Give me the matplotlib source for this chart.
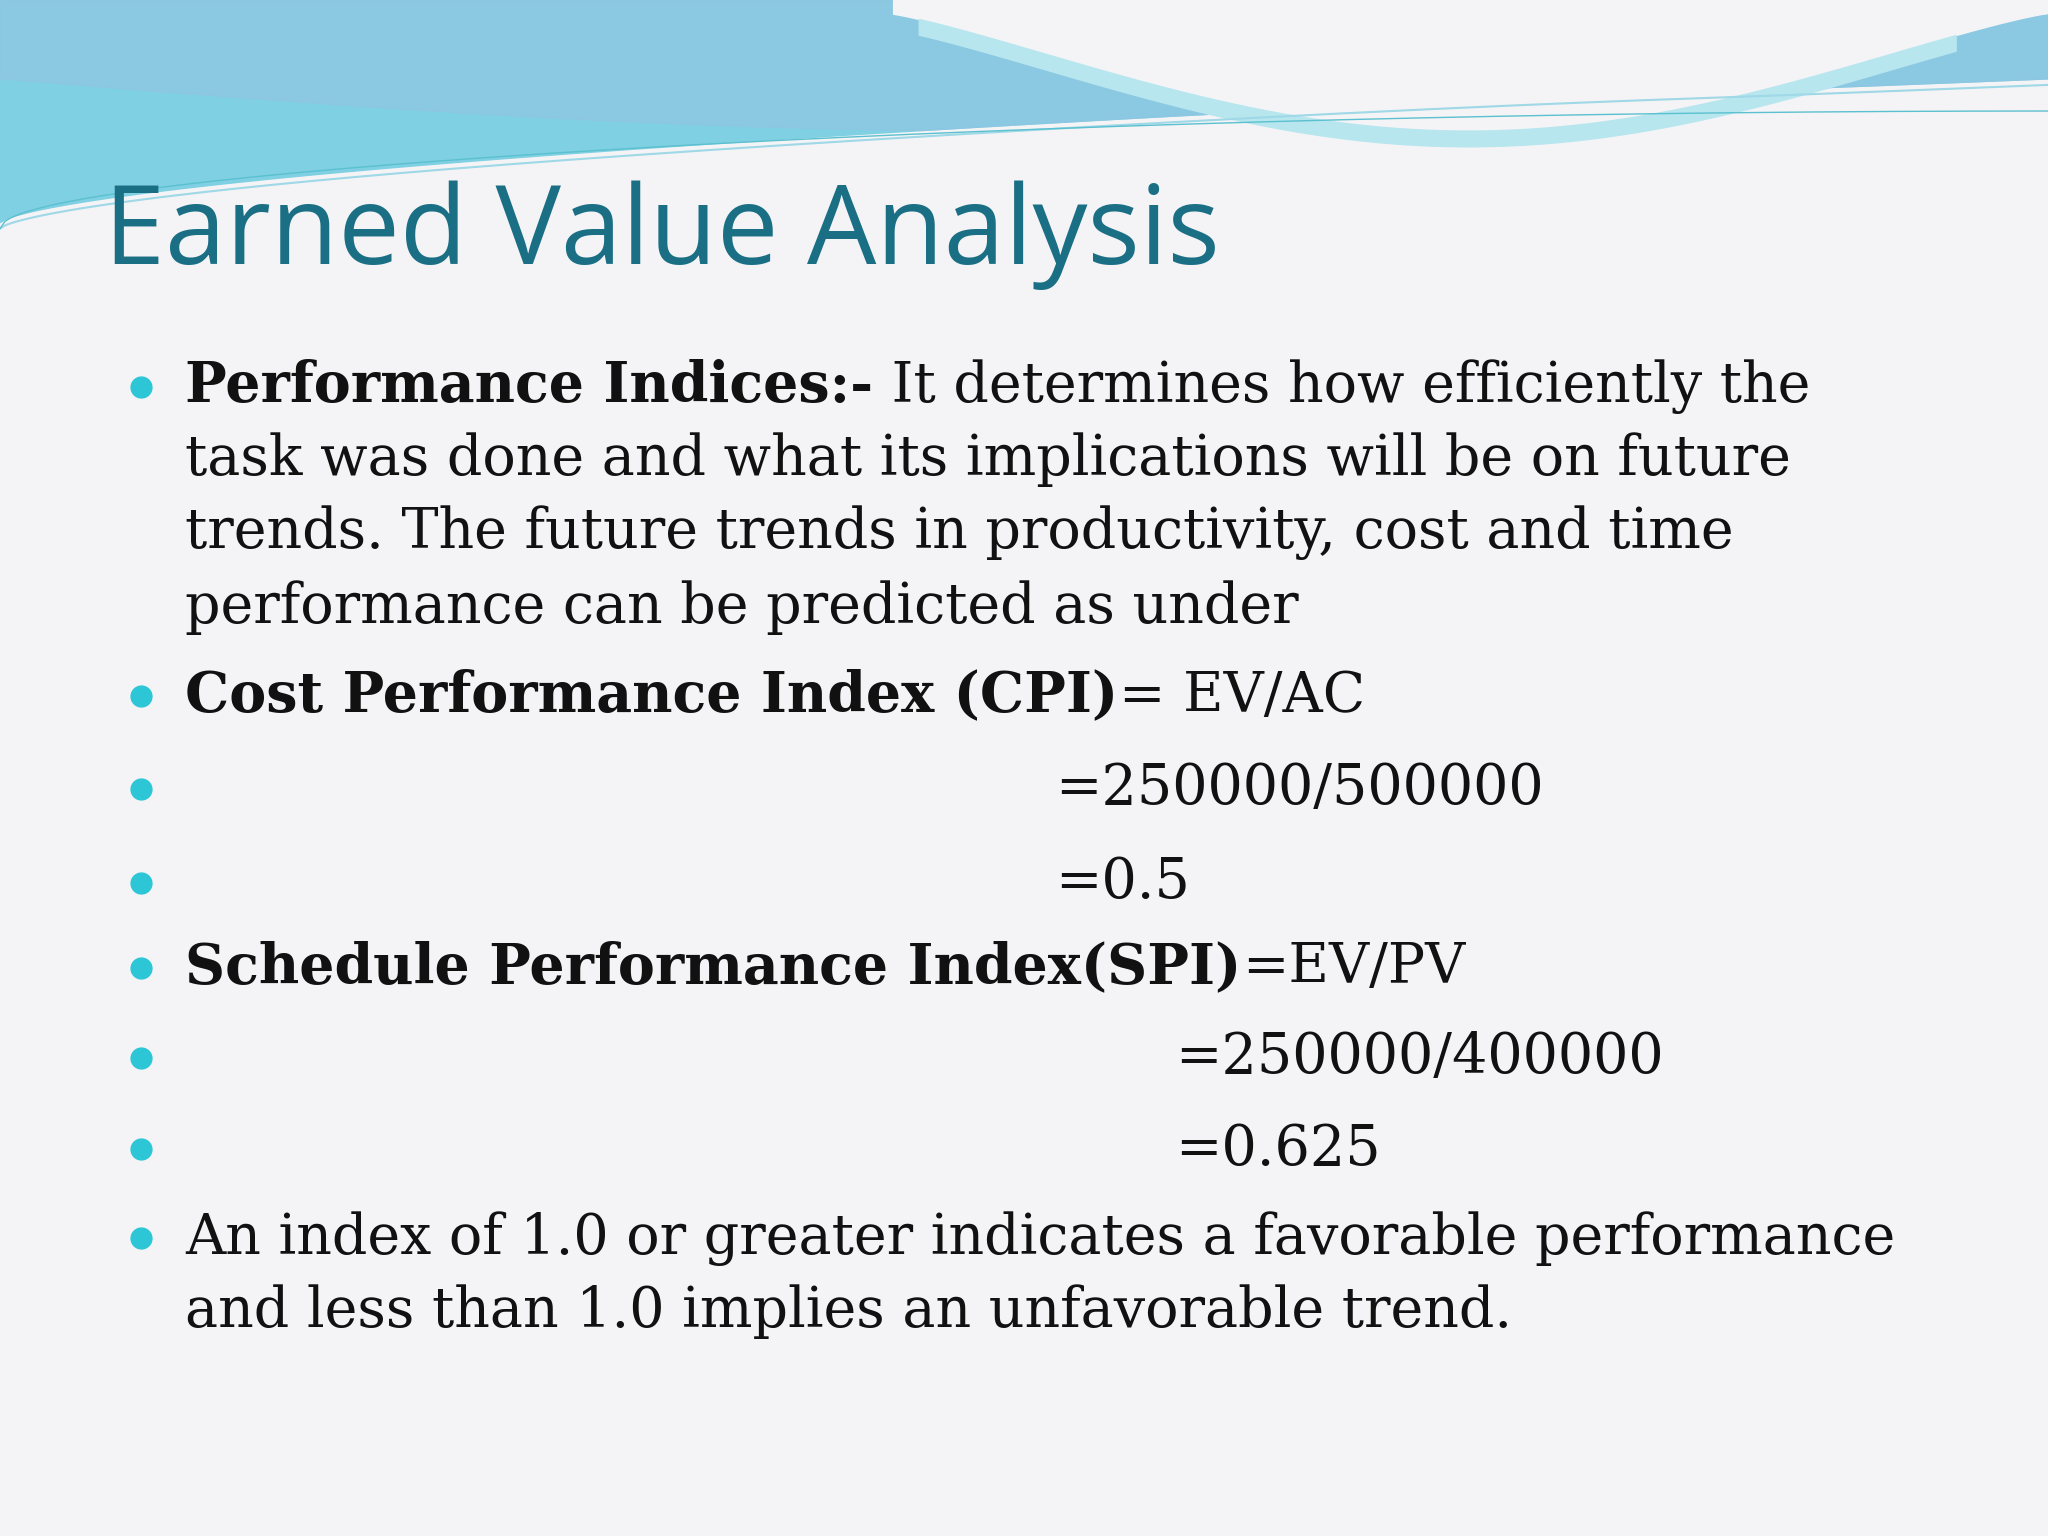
import numpy as np
import matplotlib
matplotlib.use("Agg")
import matplotlib.pyplot as plt

title = "Earned Value Analysis"
bold_parts = ["Performance Indices:-", "", "", "", "Cost Performance Index (CPI)", "", "",
              "Schedule Performance Index(SPI)", "", "", "", ""]
reg_parts = [" It determines how efficiently the", "task was done and what its implications will be on future",
             "trends. The future trends in productivity, cost and time", "performance can be predicted as under",
             "= EV/AC", "=250000/500000", "=0.5", "=EV/PV", "=250000/400000", "=0.625",
             "An index of 1.0 or greater indicates a favorable performance",
             "and less than 1.0 implies an unfavorable trend."]
bullets = [1, 0, 0, 0, 1, 1, 1, 1, 1, 1, 1, 0]
line_y = [296, 352, 408, 465, 533, 604, 676, 741, 810, 880, 948, 1004]
indent_x = [142, 142, 142, 142, 142, 808, 808, 142, 900, 900, 142, 142]

W, H = 1568, 1176
fig = plt.figure(figsize=(20.48, 15.36), dpi=100)
ax = fig.add_axes([0, 0, 1, 1])
ax.set_xlim(0, W); ax.set_ylim(H, 0); ax.axis("off")
fig.patch.set_facecolor("#f4f4f6")

# decorative wave
x = np.linspace(0, W, 400)
lower = 170 - 110 * np.sin(np.clip(x / 1300, 0, 1) * np.pi / 2) ** 0.7 + 20 * np.sin(x / W * np.pi)
ax.fill_between(x, 0, lower, color="#7fd0e2", zorder=1)
ax.fill_between(x, 0, np.minimum(lower, 60 + 40 * np.sin(x / W * np.pi)), color="#8fc6e2", alpha=0.8, zorder=1)
sw = np.where(x > 680, 10 + 90 * np.sin(np.clip((x - 680) / 888, 0, 1) * np.pi) ** 1.2, 0)
ax.fill_between(x, 0, sw, where=x > 680, color="#f4f4f6", zorder=2)
ax.fill_between(x, sw, sw + 12, where=(x > 700) & (x < 1500), color="#b7e6ef", zorder=2)
ax.plot(x, lower + 5, color="#9fd8e6", lw=1.5, zorder=2)
ax.plot(x, 175 - 90 * np.sin(x / W * np.pi / 2) ** 0.5, color="#5bc0cf", lw=1, zorder=2)

ax.text(80, 180, title, fontsize=79, family="Open Sans", color="#1b6f85", va="center", zorder=3)

fs = 40
r = fig.canvas.get_renderer()
for b, bp, rp, y, xi in zip(bullets, bold_parts, reg_parts, line_y, indent_x):
    if b:
        ax.plot(108, y, "o", color="#2cc6d6", ms=15, zorder=3)
    xx = xi
    if bp:
        t = ax.text(xx, y, bp, fontsize=fs, family="DejaVu Serif", weight="bold", va="center", color="#111111")
        bb = t.get_window_extent(r)
        xx += bb.width * W / fig.bbox.width
    ax.text(xx, y, rp, fontsize=fs, family="DejaVu Serif", va="center", color="#111111")

fig.savefig("out.png", dpi=100, facecolor=fig.get_facecolor())
